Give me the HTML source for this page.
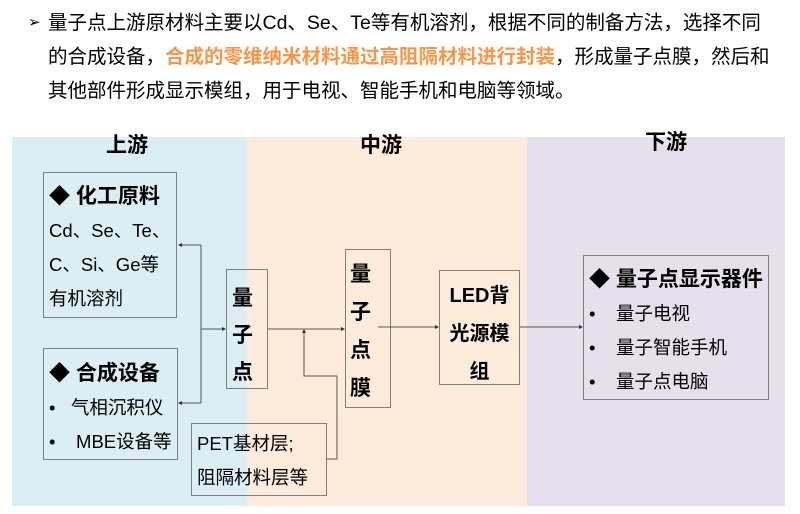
<!DOCTYPE html><html><head><meta charset="utf-8"><style>
body{margin:0;width:800px;height:514px;background:#fff;position:relative;overflow:hidden;font-family:"Liberation Sans","Noto Sans CJK SC",sans-serif;color:#000}
.a{position:absolute}
.t{left:28px;top:6px;font-size:19.5px;line-height:34px;width:780px;white-space:nowrap}
.bx{position:absolute;border:1px solid #7f7f7f;box-sizing:border-box;white-space:nowrap}
.h{font-weight:bold}
</style></head><body>
<div class="a t"><span style="font-size:15px;position:absolute;left:0">➢</span><div style="margin-left:20px">量子点上游原材料主要以Cd、Se、Te等有机溶剂，根据不同的制备方法，选择不同<br>的合成设备，<b style="color:#f79646">合成的零维纳米材料通过高阻隔材料进行封装</b>，形成量子点膜，然后和<br>其他部件形成显示模组，用于电视、智能手机和电脑等领域。</div></div>
<div class="a" style="left:12px;top:137px;width:235px;height:369px;background:#dbeef4"></div>
<div class="a" style="left:247px;top:137px;width:280px;height:369px;background:#fdebdb"></div>
<div class="a" style="left:527px;top:137px;width:258px;height:369px;background:#e5e0ec"></div>
<div class="a h" style="left:106px;top:129px;font-size:21px">上游</div>
<div class="a h" style="left:360px;top:129px;font-size:21px">中游</div>
<div class="a h" style="left:645px;top:126px;font-size:21px">下游</div>
<div class="bx" style="left:43px;top:172px;width:134px;height:146px;padding:7px 0 0 5px;font-size:18.5px;line-height:34px"><b style="font-size:21px">◆ 化工原料</b><br>Cd、Se、Te、<br>C、Si、Ge等<br>有机溶剂</div>
<div class="bx" style="left:43px;top:348px;width:135px;height:112px;padding:8px 0 0 5px;font-size:18.5px;line-height:34px"><b style="font-size:21px">◆ 合成设备</b><br>•&nbsp;&nbsp; 气相沉积仪<br>•&nbsp;&nbsp;&nbsp; MBE设备等</div>
<div class="bx h" style="left:226px;top:269px;width:42px;height:120px;padding:10px 0 0 5px;font-size:21px;line-height:37px">量<br>子<br>点</div>
<div class="bx h" style="left:345px;top:249px;width:46px;height:159px;padding:6px 0 0 4px;font-size:21px;line-height:38px">量<br>子<br>点<br>膜</div>
<div class="bx" style="left:191px;top:423px;width:136px;height:73px;padding:3px 0 0 5px;font-size:18.5px;line-height:34px">PET基材层;<br>阻隔材料层等</div>
<div class="bx h" style="left:439px;top:270px;width:81px;height:115px;padding:6px 0 0 0;text-align:center;font-size:20px;line-height:38px">LED背<br>光源模<br>组</div>
<div class="bx" style="left:583px;top:255px;width:186px;height:145px;padding:7px 0 0 5px;font-size:18.5px;line-height:34px"><b style="font-size:21px">◆ 量子点显示器件</b><br>•&nbsp;&nbsp;&nbsp; 量子电视<br>•&nbsp;&nbsp;&nbsp; 量子智能手机<br>•&nbsp;&nbsp;&nbsp; 量子点电脑</div>
<svg class="a" style="left:0;top:0" width="800" height="514"><g stroke="#555" fill="none" stroke-width="1">
<path d="M201 245V403M201 245H179M201 403H179M201 329H224M268 329H343M304 331V376H337V459H327M378 327H437M520 327H581"/></g>
<g fill="#333"><path d="M178 245l4-2v4z"/><path d="M178 403l4-2v4z"/><path d="M226 329l-4-2v4z"/><path d="M345 329l-4-2v4z"/><path d="M304 329l-2 4h4z"/><path d="M439 327l-4-2v4z"/><path d="M583 327l-4-2v4z"/></g></svg>
</body></html>
